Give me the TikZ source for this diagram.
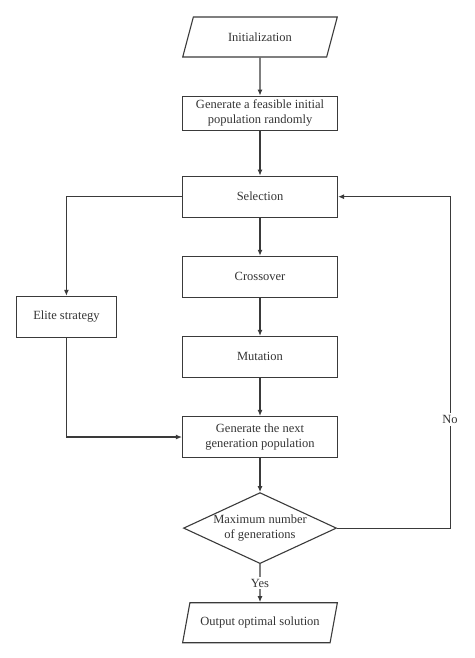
\documentclass[tikz,border=0pt]{standalone}
\usepackage{fontspec}
\setmainfont{Liberation Serif}
\usetikzlibrary{positioning, calc, arrows.meta, shapes.geometric}
\definecolor{lineclr}{HTML}{3A3A3A}
\definecolor{textclr}{HTML}{333333}

\begin{document}
\begin{tikzpicture}[x=1pt, y=1pt, node distance=38pt, >={Latex[length=6pt, width=5pt]},
    box/.style={rectangle, draw=lineclr, line width=1.1pt, align=center, minimum width=155pt, minimum height=41pt, text=textclr, font=\fontsize{12.5}{15}\selectfont},
    io/.style={trapezium, trapezium left angle=70, trapezium right angle=110, trapezium stretches=true, draw=lineclr, line width=1.1pt, minimum width=155pt, minimum height=40pt, text=textclr, font=\fontsize{12.5}{15}\selectfont},
    decision/.style={diamond, aspect=2.15, draw=lineclr, line width=1.1pt, align=center, minimum width=153pt, minimum height=71pt, inner sep=0pt, text=textclr, font=\fontsize{12.5}{15}\selectfont},
    lbl/.style={fill=white, text=textclr, inner sep=2pt, font=\fontsize{12.5}{15}\selectfont}]
        \useasboundingbox (0,0) rectangle (474,-658);

        % Nodes
        \node (init) [io] at (260,-37) {Initialization};
        \node (genpop) [box, minimum height=34pt, below=of init] {Generate a feasible initial\\population randomly};
        \node (sel) [box, below=45pt of genpop] {Selection};
        \node (cross) [box, below=of sel] {Crossover};
        \node (mut) [box, below=of cross] {Mutation};
        \node (nextgen) [box, below=of mut] {Generate the next\\generation population};
        \node (maxgen) [decision, below=34pt of nextgen] {Maximum number\\of generations};
        \node (out) [io, below=of maxgen] {Output optimal solution};
        \coordinate (mid) at ($(cross.west)!0.5!(mut.west)$);
        \node (elite) [box, minimum width=100pt, left=65pt of mid] {Elite strategy};

        % Main vertical arrows
        \foreach \i/\j in {init/genpop, genpop/sel, sel/cross, cross/mut, mut/nextgen, nextgen/maxgen}
        \draw[->, draw=lineclr, line width=1.1pt] (\i) -- (\j);
        \draw[->, draw=lineclr, line width=1.1pt] (maxgen) -- node[lbl] {Yes} (out);

        % Side arrows
        \draw[->, draw=lineclr, line width=1.1pt] (sel.west) -| (elite.north);
        \draw[->, draw=lineclr, line width=1.1pt] (elite.south) |- (nextgen.west);
        \draw[->, draw=lineclr, line width=1.1pt] (maxgen.east) -- ++(113,0) |- node[lbl, pos=0.164] {No} (sel.east);

\end{tikzpicture}
\end{document}
